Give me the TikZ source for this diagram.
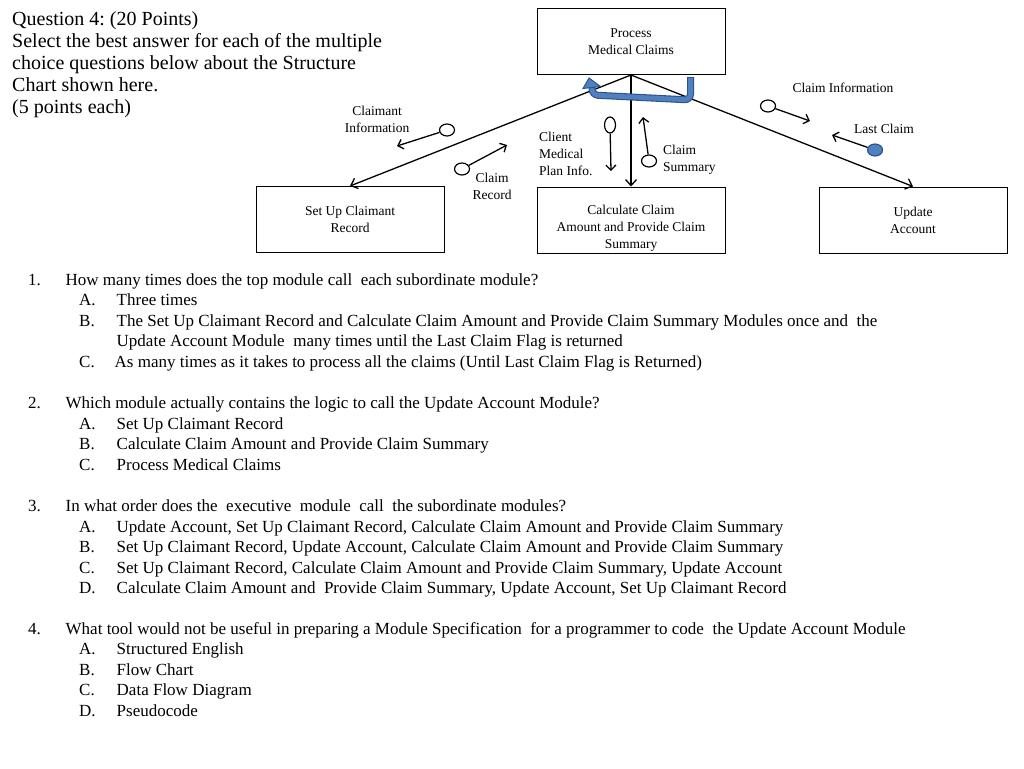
\documentclass[tikz,border=0pt]{standalone}
\usepackage{fontspec}
\setmainfont{Liberation Serif}
\usetikzlibrary{arrows.meta,shapes.geometric}

\definecolor{loopBlue}{RGB}{79,129,189}
\definecolor{loopEdge}{RGB}{47,82,143}

\tikzset{
	module/.style={rectangle, draw, line width=1pt, minimum width=188pt, minimum height=66pt, align=center, font=\fontsize{13.5}{17}\selectfont},
	call/.style={line width=1.3pt, -{Straight Barb[length=6pt,width=11pt]}},
	couple/.style={ellipse, draw, line width=1.2pt, fill=white, minimum width=15pt, minimum height=12pt, inner sep=0pt},
	flow/.style={line width=1.3pt, -{Straight Barb[length=5pt,width=10pt]}},
	flowlabel/.style={font=\fontsize{13.5}{17}\selectfont, align=center, inner sep=0pt},
	question/.style={font=\fontsize{17}{20.5}\selectfont, anchor=base west, inner sep=0pt}
}

\frenchspacing

\begin{document}
\begin{tikzpicture}[x=1pt,y=-1pt]
		
		\useasboundingbox (0,0) rectangle (1024,768);
		
		\node[font=\fontsize{20}{22}\selectfont, align=left, anchor=west, inner sep=0pt] 
		(heading) at (12,64.5) {Question 4: (20 Points)\\Select the best answer for each of the multiple\\choice questions below about the Structure\\Chart shown here.\\(5 points each)};
		
		% Modules
		
		\node[module] (top) at (631,41.5) {Process\\Medical Claims};
		
		\node[module] (setup) at (350,219.5) {Set Up Claimant\\Record};
		
		\node[module] (calc) at (631,220) {};
		\node[flowlabel] (calcLabel) at (631,228) {Calculate Claim\\Amount and Provide Claim\\Summary};
		
		\node[module] (update) at (913,220) {Update\\Account};
		
		\draw[call] (top.south) -- (setup.north);
		\draw[call] (top.south) -- (calc.north);
		\draw[call] (top.south) -- (update.north);
		
		% Loop
		
		\draw[loopEdge, line width=7pt, rounded corners=6pt] (690.5,77) -- (690.5,100) -- (592,95) -- (592,86);
		\draw[loopBlue, line width=4.8pt, rounded corners=6pt] (690.5,78.1) -- (690.5,100) -- (592,95) -- (592,86);
		\filldraw[fill=loopBlue, draw=loopEdge, line width=1pt] (589,78) -- (600.5,86.5) -- (583,88.5) -- cycle;
		
		% Data couples
		
		\node[couple] (cInfo) at (447,130) {};
		\coordinate (cInfoTip) at (397,146);
		\draw[flow] (cInfo) -- (cInfoTip);
		\node[flowlabel] (lClaimant) at (377,119.5) {Claimant\\Information};
		
		\node[couple] (cRec) at (462,169) {};
		\coordinate (cRecTip) at (507,145);
		\draw[flow] (cRec) -- (cRecTip);
		\node[flowlabel] (lRecord) at (492,186.5) {Claim\\Record};
		
		\node[couple, minimum width=11pt, minimum height=16pt] (cPlan) at (610,125) {};
		\coordinate (cPlanTip) at (611,171);
		\draw[flow] (cPlan) -- (cPlanTip);
		\node[flowlabel, align=left, anchor=west] (lPlan) at (539,154) {Client\\Medical\\Plan Info.};
		
		\node[couple] (cSum) at (649,161) {};
		\coordinate (cSumTip) at (643,117);
		\draw[flow] (cSum) -- (cSumTip);
		\node[flowlabel, align=left, anchor=west] (lSummary) at (663,159.5) {Claim\\Summary};
		
		\node[couple] (cClaim) at (768,106) {};
		\coordinate (cClaimTip) at (810,121);
		\draw[flow] (cClaim) -- (cClaimTip);
		\node[flowlabel] (lClaimInfo) at (843,88) {Claim Information};
		
		\node[couple, fill=loopBlue, draw=loopEdge] (cLast) at (875,150) {};
		\coordinate (cLastTip) at (832,135);
		\draw[flow] (cLast) -- (cLastTip);
		\node[flowlabel] (lLast) at (884,129) {Last Claim};
		
		% Questions
		
		\foreach \y/\mx/\m/\t [count=\i] in {
			285.5/28/1./How many times does the top module call~ each subordinate module?,
			305.5/79/A./Three times,
			326.5/79/B./The Set Up Claimant Record and Calculate Claim Amount and Provide Claim Summary Modules once and~ the,
			346.5/79//Update Account Module~ many times until the Last Claim Flag is returned,
			367.5/79/C./{\hspace{-2pt}As many times as it takes to process all the claims (Until Last Claim Flag is Returned)},
			408.5/28/2./Which module actually contains the logic to call the Update Account Module?,
			429.5/79/A./Set Up Claimant Record,
			449.5/79/B./Calculate Claim Amount and Provide Claim Summary,
			470.5/79/C./Process Medical Claims,
			511.5/28/3./In what order does the~ executive~ module~ call~ the subordinate modules?,
			532.5/79/A./{Update Account, Set Up Claimant Record, Calculate Claim Amount and Provide Claim Summary},
			552.5/79/B./{Set Up Claimant Record, Update Account, Calculate Claim Amount and Provide Claim Summary},
			573.5/79/C./{Set Up Claimant Record, Calculate Claim Amount and Provide Claim Summary, Update Account},
			593.5/79/D./{Calculate Claim Amount and~ Provide Claim Summary, Update Account, Set Up Claimant Record},
			634.5/28/4./What tool would not be useful in preparing a Module Specification~ for a programmer to code~ the Update Account Module,
			654.5/79/A./Structured English,
			675.5/79/B./Flow Chart,
			695.5/79/C./Data Flow Diagram,
			716.5/79/D./Pseudocode}
		{
			\node[question] (mark\i) at (\mx,\y) {\m};
			\node[question] (item\i) at ({\mx+37.5},\y) {\t};
		}
		
	\end{tikzpicture}
\end{document}
